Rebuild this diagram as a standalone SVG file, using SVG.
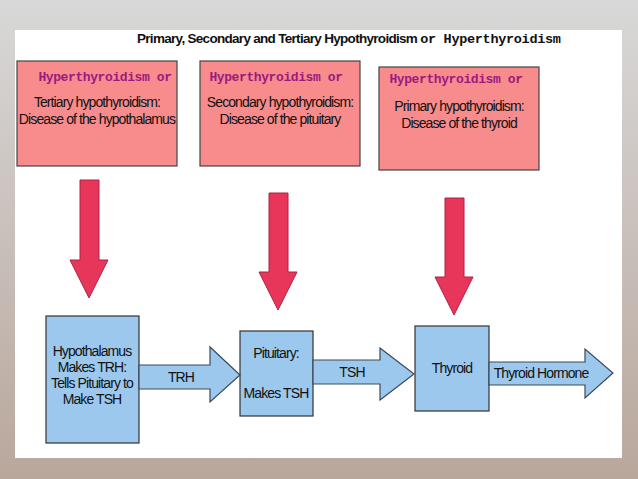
<svg xmlns="http://www.w3.org/2000/svg" width="638" height="479" viewBox="0 0 638 479">
<defs>
<linearGradient id="bg" x1="0" y1="0" x2="0" y2="1"><stop offset="0" stop-color="#d8d8d8"/><stop offset="1" stop-color="#b9a79c"/></linearGradient>
</defs>
<style>
.pink{fill:#f88c8c;stroke:#444;stroke-width:1.2}
.blue{fill:#9cc8ee;stroke:#333;stroke-width:1.2}
.red{fill:#e8365a;stroke:#b02040;stroke-width:1}
.barrow{fill:#9cc8ee;stroke:#3a4a5a;stroke-width:1.2}
.t{font-family:"Liberation Sans",Arial,sans-serif;font-size:14px;fill:#111;text-anchor:middle;letter-spacing:-0.9px}
.h{font-family:"Liberation Mono",monospace;font-weight:bold;font-size:13px;fill:#9b1a80;text-anchor:middle;letter-spacing:-0.4px}
</style>
<rect width="638" height="479" fill="url(#bg)"/>
<rect x="15" y="30" width="607" height="428" fill="#ffffff"/>
<text x="137" y="43" style="font-family:'Liberation Sans',Arial,sans-serif;font-size:13.5px;font-weight:bold;fill:#111;letter-spacing:-0.7px">Primary, Secondary and Tertiary Hypothyroidism <tspan style="font-family:'Liberation Mono',monospace;font-size:13.5px;letter-spacing:-0.3px">or Hyperthyroidism</tspan></text>
<g id="n-tertiary"><rect class="pink" x="17" y="61" width="160" height="105"/><text class="h" x="105" y="81">Hyperthyroidism or</text><text class="t" x="97" y="107">Tertiary hypothyroidism:</text><text class="t" x="97" y="124">Disease of the hypothalamus</text></g>
<g id="n-secondary"><rect class="pink" x="200" y="61" width="160" height="105"/><text class="h" x="276" y="81">Hyperthyroidism or</text><text class="t" x="280" y="107">Secondary  hypothyroidism:</text><text class="t" x="280" y="124">Disease of the pituitary</text></g>
<g id="n-primary"><rect class="pink" x="379" y="67" width="160" height="103"/><text class="h" x="456" y="83">Hyperthyroidism or</text><text class="t" x="459" y="111">Primary  hypothyroidism:</text><text class="t" x="459" y="128">Disease of the thyroid</text></g>
<g id="n-hypothalamus"><rect class="blue" x="46" y="316" width="93" height="127"/><text class="t" x="92" y="356">Hypothalamus</text><text class="t" x="92" y="372">Makes TRH:</text><text class="t" x="92" y="388">Tells Pituitary to</text><text class="t" x="92" y="404">Make TSH</text></g>
<g id="n-pituitary"><rect class="blue" x="240" y="331" width="73" height="85"/><text class="t" x="276" y="358">Pituitary:</text><text class="t" x="276" y="398">Makes TSH</text></g>
<g id="n-thyroid"><rect class="blue" x="415" y="326" width="74" height="85"/><text class="t" x="452" y="373">Thyroid</text></g>
<g id="connectors">
<polygon class="red" points="80,180 99,180 99,260 108,260 89,298 70,260 80,260"/>
<polygon class="red" points="269,193 288,193 288,272 297,272 278,310 259,272 269,272"/>
<polygon class="red" points="445,198 464,198 464,277 473,277 454,315 435,277 445,277"/>
<polygon class="barrow" points="139,365 210,365 210,347 240,375 210,402 210,389 139,389"/>
<text class="t" x="181" y="382">TRH</text>
<polygon class="barrow" points="313,360 380,360 380,348 414,374 380,400 380,384 313,384"/>
<text class="t" x="352" y="377">TSH</text>
<polygon class="barrow" points="489,362 585,362 585,349 613,373 585,398 585,385 489,385"/>
<text class="t" x="541" y="378">Thyroid Hormone</text>
</g>
</svg>
